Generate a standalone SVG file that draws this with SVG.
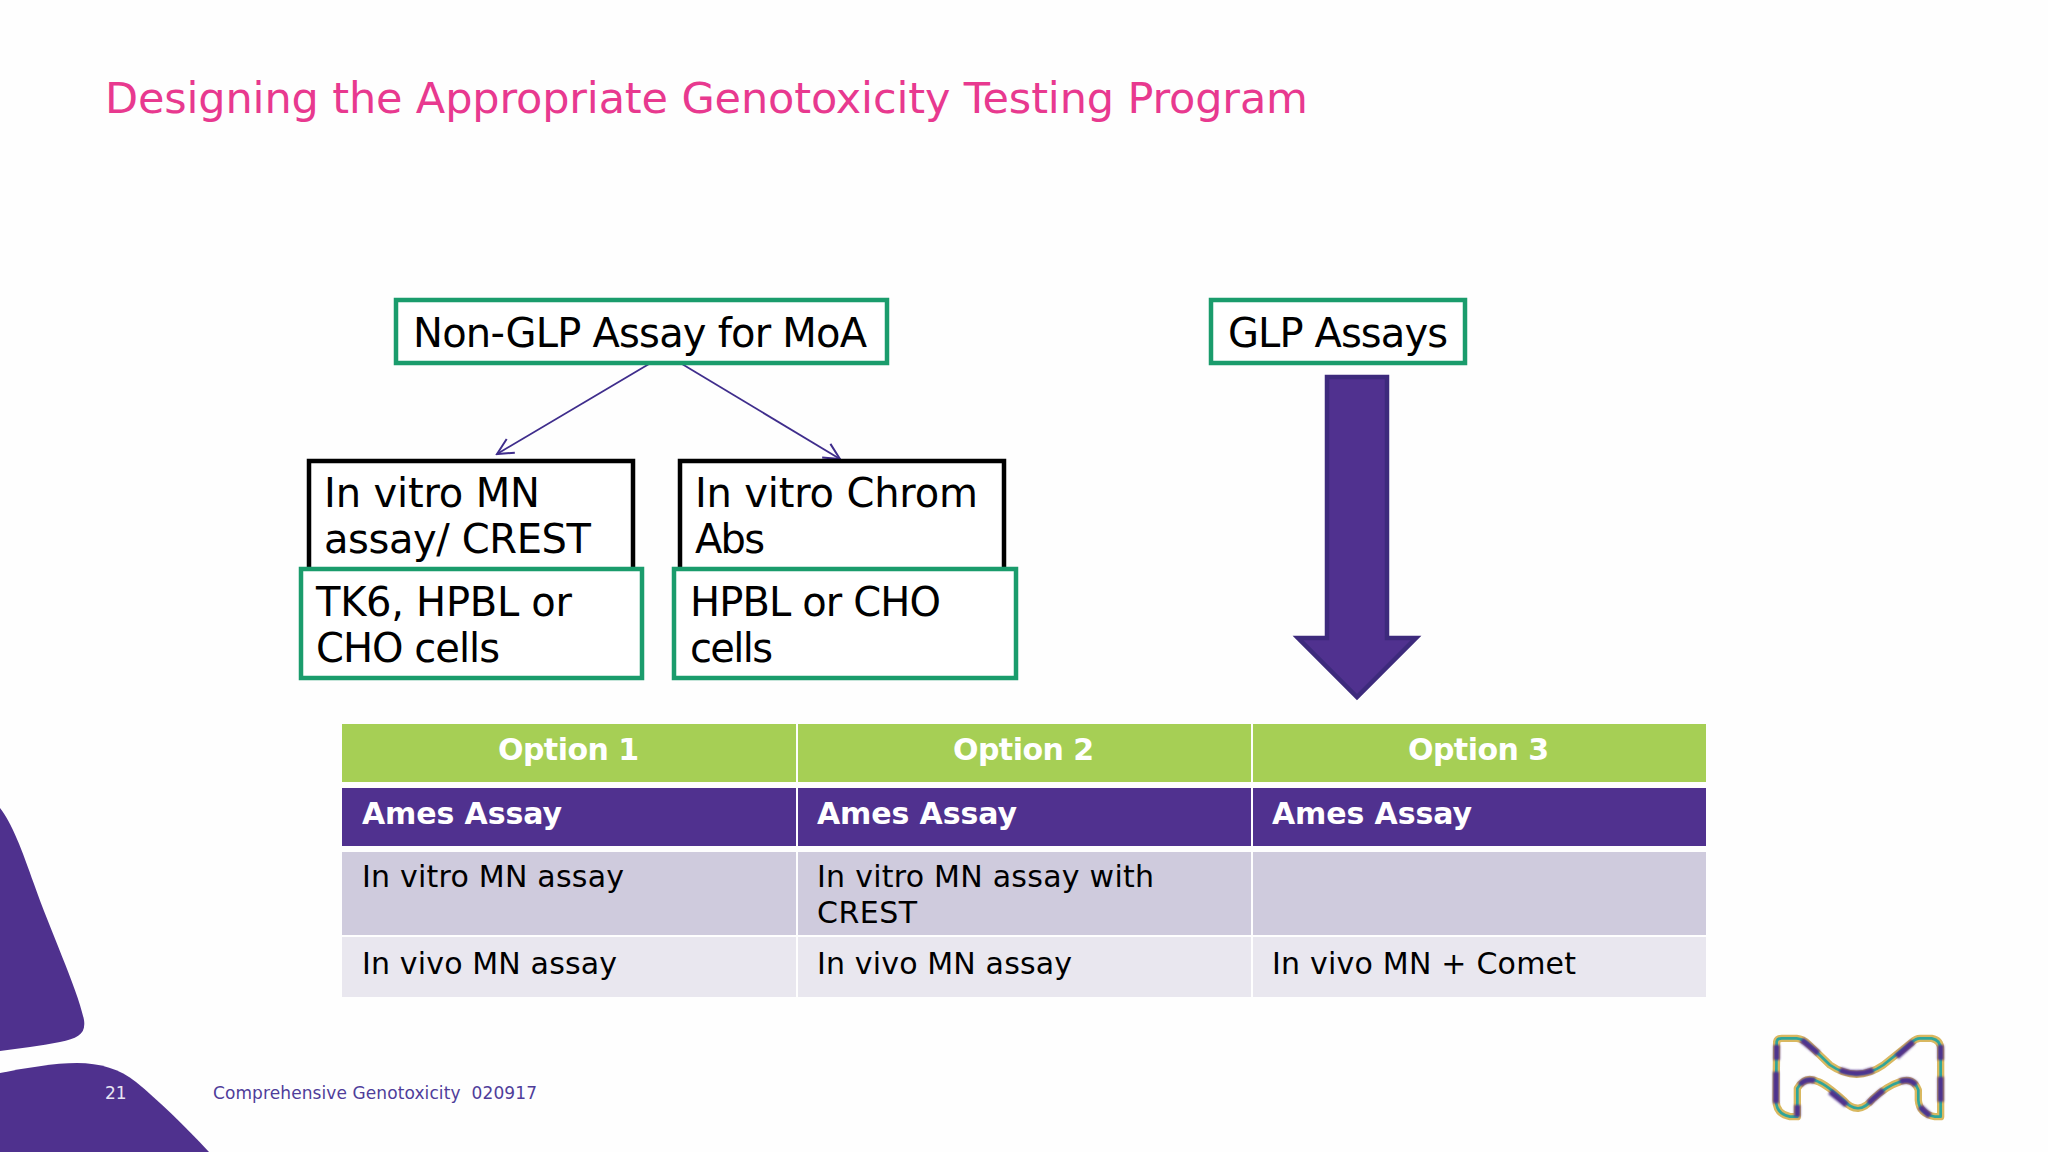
<svg xmlns="http://www.w3.org/2000/svg" width="2048" height="1152" viewBox="0 0 2048 1152">
<defs>
<marker id="open" viewBox="0 0 20 20" refX="18" refY="10" markerWidth="20" markerHeight="20" markerUnits="userSpaceOnUse" orient="auto"><path d="M2 2L18 10L2 18" fill="none" stroke="#3f2d8c" stroke-width="2"/></marker>
<path id="logo" d="M110 95Q112 85 125 85L170 85Q190 87 205 102L270 165Q350 220 430 165L515 97Q528 85 540 85L575 85Q602 90 602 118L602 320L585 320Q538 312 535 270L535 240Q520 200 480 215Q440 228 400 265Q355 322 310 270Q260 225 235 215Q195 195 172 235L172 320L150 320Q108 312 108 270Z"/>
<filter id="soft" x="-5%" y="-5%" width="110%" height="110%"><feGaussianBlur stdDeviation="3"/></filter>
</defs>
<style>
text{font-family:"DejaVu Sans","Verdana",sans-serif}
.box{fill:#fff;stroke-width:4.5}
.g{stroke:#1a9c6c}
.k{stroke:#000}
.n{font-size:40px;fill:#000}
.cell{stroke:none}
.h{font-size:30px;font-weight:700;fill:#fff}
.t{font-size:30px;fill:#000}
.lp{fill:none;stroke-linejoin:round;stroke-linecap:butt}
</style>
<rect width="2048" height="1152" fill="#fefefe"/>
<text id="title" x="105" y="113" font-size="43" fill="#e8398f" textLength="1203" lengthAdjust="spacing">Designing the Appropriate Genotoxicity Testing Program</text>
<g id="blobs" fill="#4f318e">
<path d="M0 808C12 823 22 850 34 884C50 930 78 990 84 1020C86 1034 78 1038 60 1042C40 1046 20 1048 0 1051Z"/>
<path d="M0 1073C25 1068 55 1063 77 1063C100 1063 120 1069 136 1082C158 1100 185 1126 209 1152L0 1152Z"/>
</g>
<g id="connectors" fill="none" stroke="#3f2d8c" stroke-width="1.8">
<line x1="649" y1="364" x2="497" y2="454" marker-end="url(#open)"/>
<line x1="682" y1="364" x2="840" y2="459" marker-end="url(#open)"/>
</g>
<g id="node-nonglp"><rect class="box g" x="396" y="300" width="491" height="63"/><text class="n" x="413" y="347" textLength="454">Non-GLP Assay for MoA</text></g>
<g id="node-glp"><rect class="box g" x="1211" y="300" width="254" height="63"/><text class="n" x="1228" y="347" textLength="220">GLP Assays</text></g>
<g id="node-mn"><rect class="box k" x="309" y="461" width="324" height="110"/><text class="n" x="324" y="507" textLength="216">In vitro MN</text><text class="n" x="324" y="553" textLength="267">assay/ CREST</text></g>
<g id="node-chrom"><rect class="box k" x="680" y="461" width="324" height="110"/><text class="n" x="695" y="507" textLength="283">In vitro Chrom</text><text class="n" x="695" y="553" textLength="70">Abs</text></g>
<g id="node-tk6"><rect class="box g" x="301" y="569" width="341" height="109"/><text class="n" x="316" y="616" textLength="256">TK6, HPBL or</text><text class="n" x="316" y="662" textLength="184">CHO cells</text></g>
<g id="node-hpbl"><rect class="box g" x="674" y="569" width="342" height="109"/><text class="n" x="690" y="616" textLength="251">HPBL or CHO</text><text class="n" x="690" y="662" textLength="83">cells</text></g>
<g id="node-arrow"><path d="M1327 377H1387V638H1416L1357 697L1298 638H1327Z" fill="#50318f" stroke="#3d2a7c" stroke-width="4.5"/></g>
<g id="table">
<rect class="cell" x="342" y="724" width="454" height="58" fill="#a6cf55"/><rect class="cell" x="798" y="724" width="453" height="58" fill="#a6cf55"/><rect class="cell" x="1253" y="724" width="453" height="58" fill="#a6cf55"/>
<rect class="cell" x="342" y="788" width="454" height="58" fill="#50318f"/><rect class="cell" x="798" y="788" width="453" height="58" fill="#50318f"/><rect class="cell" x="1253" y="788" width="453" height="58" fill="#50318f"/>
<rect class="cell" x="342" y="852" width="454" height="83" fill="#cfcbdd"/><rect class="cell" x="798" y="852" width="453" height="83" fill="#cfcbdd"/><rect class="cell" x="1253" y="852" width="453" height="83" fill="#cfcbdd"/>
<rect class="cell" x="342" y="937" width="454" height="60" fill="#e9e7ef"/><rect class="cell" x="798" y="937" width="453" height="60" fill="#e9e7ef"/><rect class="cell" x="1253" y="937" width="453" height="60" fill="#e9e7ef"/>
<text class="h" x="498" y="760" textLength="141">Option 1</text><text class="h" x="953" y="760" textLength="141">Option 2</text><text class="h" x="1408" y="760" textLength="141">Option 3</text>
<text class="h" x="362" y="824" textLength="200">Ames Assay</text><text class="h" x="817" y="824" textLength="200">Ames Assay</text><text class="h" x="1272" y="824" textLength="200">Ames Assay</text>
<text class="t" x="362" y="887" textLength="262">In vitro MN assay</text>
<text class="t" x="817" y="887" textLength="337">In vitro MN assay with</text><text class="t" x="817" y="923" textLength="100">CREST</text>
<text class="t" x="362" y="974" textLength="255">In vivo MN assay</text><text class="t" x="817" y="974" textLength="255">In vivo MN assay</text><text class="t" x="1272" y="974" textLength="304">In vivo MN + Comet</text>
</g>
<text id="page" x="105" y="1099" font-size="17" fill="#e8e4f2">21</text>
<text id="footer" x="213" y="1099" font-size="17" fill="#4f3d9a" textLength="324" style="white-space:pre">Comprehensive Genotoxicity  020917</text>
<g id="logo-mark" transform="translate(1740 1010) scale(.3333)">
<use href="#logo" class="lp" stroke="#d9b860" stroke-width="22"/>
<use href="#logo" class="lp" stroke="#2fa59a" stroke-width="8"/>
<g class="lp" stroke="#4f318e" stroke-width="18" filter="url(#soft)">
<path d="M110 105L110 150M108 185L108 280M185 90L235 130M300 180Q350 200 400 180M470 140L520 95M602 105L602 150M602 200L602 275M172 320L172 285M180 225Q195 205 225 212M270 245L320 285M385 280L430 240M480 215Q510 205 528 225M540 290L570 318"/>
</g>
</g>
</svg>
